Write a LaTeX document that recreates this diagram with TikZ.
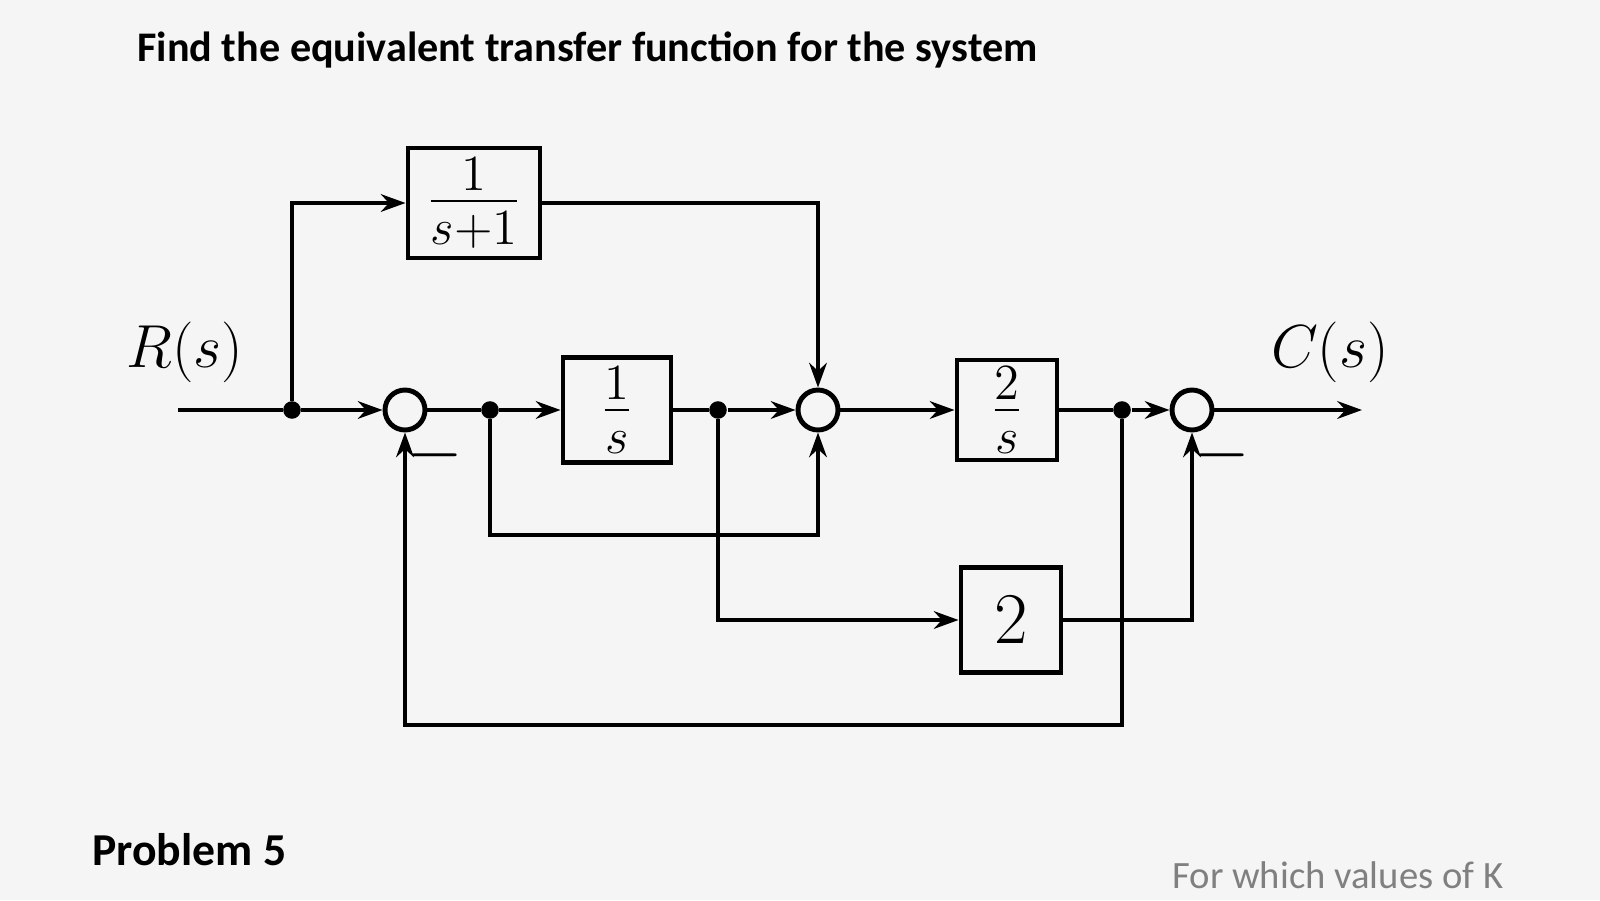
\documentclass[tikz,border=0pt]{standalone}
\usepackage{fontspec}
\newfontfamily\carl{Carlito}
\usetikzlibrary{arrows.meta}
\begin{document}
\begin{tikzpicture}[
  blk/.style={draw,line width=1.4pt,minimum width=#1,inner sep=0pt},
  sum/.style={draw,circle,line width=1.4pt,minimum size=0.4cm,inner sep=0pt},
  dot/.style={circle,fill,inner sep=0pt,minimum size=5pt},
  ln/.style={line width=1.4pt},
  ar/.style={line width=1.4pt,-{Stealth[length=7pt,width=5pt]}},
  lbl/.style={font=\fontsize{20}{22}\selectfont},
  io/.style={font=\fontsize{16}{18}\selectfont}
]
\useasboundingbox (0,0) rectangle (16,9);
\fill[white!92!gray] (0,0) rectangle (16,9);
\node[anchor=west,font=\carl\bfseries\fontsize{12}{14}\selectfont] (title) at (1.25,8.5) {Find the equivalent transfer function for the system};
\node[anchor=west,font=\carl\bfseries\fontsize{13}{15}\selectfont] (prob) at (0.8,0.5) {Problem 5};
\node[anchor=west,font=\carl\fontsize{11}{13}\selectfont,text=gray] (foot) at (11.6,0.25) {For which values of K};
% blocks
\node[blk=1.32cm,minimum height=1.1cm,lbl] (g1) at (4.74,6.97) {$\frac{1}{s+1}$};
\node[blk=1.08cm,minimum height=1.05cm,lbl] (g2) at (6.17,4.9) {$\frac{1}{s}$};
\node[blk=1.0cm,minimum height=1.0cm,lbl] (g3) at (10.07,4.9) {$\frac{2}{s}$};
\node[blk=1.0cm,minimum height=1.05cm,lbl] (g4) at (10.11,2.8) {$2$};
% summers
\node[sum] (s1) at (4.05,4.9) {};
\node[sum] (s2) at (8.18,4.9) {};
\node[sum] (s3) at (11.92,4.9) {};
% coordinates
\coordinate (in) at (1.78,4.9);
\coordinate (out) at (13.62,4.9);
\node[dot] (b1) at (2.92,4.9) {};
\node[dot] (b2) at (4.9,4.9) {};
\node[dot] (b3) at (7.18,4.9) {};
\node[dot] (b4) at (11.22,4.9) {};
\node[io,anchor=south] (R) at (1.85,5.05) {$R(s)$};
\node[io,anchor=south] (C) at (13.3,5.05) {$C(s)$};
\node[lbl] (m1) at (4.35,4.45) {$-$};
\node[lbl] (m3) at (12.22,4.45) {$-$};
% connections
\draw[ln] (in) -- (b1);
\draw[ar] (b1) -- (s1);
\draw[ar] (b1) |- (g1);
\draw[ar] (g1.east) -| (s2.north);
\draw[ln] (s1) -- (b2);
\draw[ar] (b2) -- (g2);
\draw[ar] (b2) |- (6.5,3.65) -| (s2.south);
\draw[ln] (g2) -- (b3);
\draw[ar] (b3) -- (s2);
\draw[ar] (b3) |- (g4);
\draw[ar] (s2) -- (g3);
\draw[ln] (g3) -- (b4);
\draw[ar] (b4) -- (s3);
\draw[ar] (b4) |- (7,1.75) -| (s1.south);
\draw[ar] (g4.east) -| (s3.south);
\draw[ar] (s3) -- (out);
\end{tikzpicture}
\end{document}
